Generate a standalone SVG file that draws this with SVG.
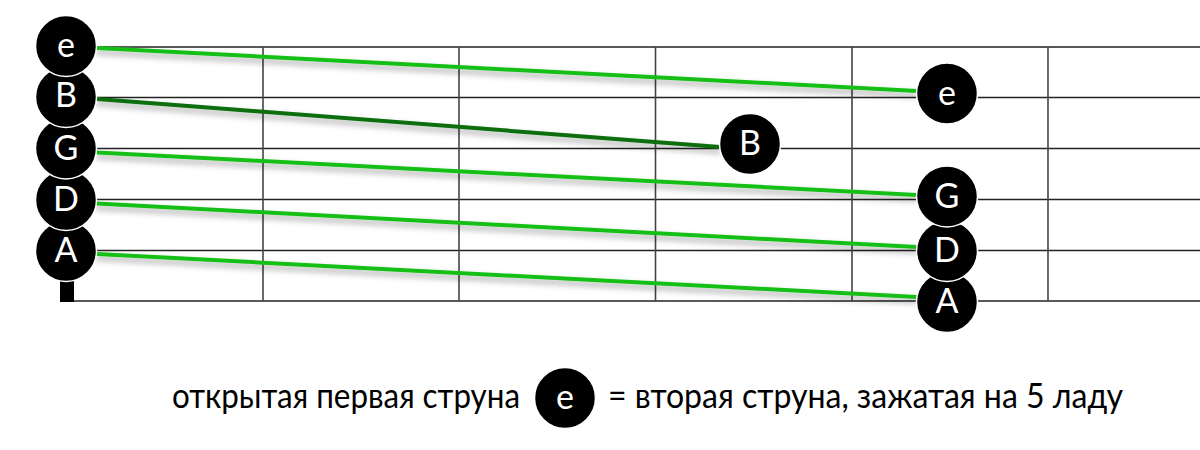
<svg xmlns="http://www.w3.org/2000/svg" width="1200" height="450" viewBox="0 0 1200 450">
<defs>
<filter id="sh" x="-5%" y="-100%" width="110%" height="400%">
<feDropShadow dx="0" dy="4" stdDeviation="3" flood-color="#000" flood-opacity="0.35"/>
</filter>
</defs>
<style>
.grid{stroke:#222;stroke-width:1.6;fill:none}
.fret{stroke:#444;stroke-width:1.6}
.str{stroke:#16bf16;stroke-width:4;stroke-linecap:round;filter:url(#sh)}
.str2{stroke:#0a6e0a;stroke-width:4;stroke-linecap:round;filter:url(#sh)}
.dot{fill:#000;stroke:#fff;stroke-width:1.5}
.lbl{fill:#fff;font-family:Lato,"Open Sans",sans-serif;font-size:34px;text-anchor:middle}
.cap{fill:#000;font-family:Lato,"Open Sans",sans-serif;font-size:34px}
</style>
<rect width="1200" height="450" fill="#fff"/>
<g id="fretboard">
<line class="grid" x1="70" y1="47" x2="1200" y2="47"/>
<line class="grid" x1="70" y1="97.5" x2="1200" y2="97.5"/>
<line class="grid" x1="70" y1="148.5" x2="1200" y2="148.5"/>
<line class="grid" x1="70" y1="199.5" x2="1200" y2="199.5"/>
<line class="grid" x1="70" y1="250.5" x2="1200" y2="250.5"/>
<line class="grid" x1="70" y1="301" x2="1200" y2="301"/>
<line class="fret" x1="263" y1="47" x2="263" y2="301"/>
<line class="fret" x1="459" y1="47" x2="459" y2="301"/>
<line class="fret" x1="655.5" y1="47" x2="655.5" y2="301"/>
<line class="fret" x1="852" y1="47" x2="852" y2="301"/>
<line class="fret" x1="1048" y1="47" x2="1048" y2="301"/>
<rect x="60" y="47" width="14" height="255" fill="#000"/>
</g>
<g id="connectors">
<line class="str" x1="97" y1="48" x2="917" y2="91"/>
<line class="str2" x1="97" y1="99" x2="720" y2="147"/>
<line class="str" x1="97" y1="152.5" x2="917" y2="195"/>
<line class="str" x1="97" y1="203.5" x2="917" y2="247"/>
<line class="str" x1="97" y1="254" x2="917" y2="297"/>
</g>
<g id="open-A"><circle class="dot" cx="66" cy="251" r="30.5"/><text class="lbl" x="66" y="262">A</text></g>
<g id="open-D"><circle class="dot" cx="66" cy="200" r="30.5"/><text class="lbl" x="66" y="211">D</text></g>
<g id="open-G"><circle class="dot" cx="66" cy="148.5" r="30.5"/><text class="lbl" x="66" y="159.5">G</text></g>
<g id="open-B"><circle class="dot" cx="66" cy="97" r="30.5"/><text class="lbl" x="66" y="107">B</text></g>
<g id="open-e"><circle class="dot" cx="66" cy="46" r="30.5"/><text class="lbl" x="66" y="57">e</text></g>
<g id="fret-A"><circle class="dot" cx="947" cy="302" r="30.5"/><text class="lbl" x="947" y="313">A</text></g>
<g id="fret-D"><circle class="dot" cx="947" cy="251" r="30.5"/><text class="lbl" x="947" y="262">D</text></g>
<g id="fret-G"><circle class="dot" cx="947" cy="196.5" r="30.5"/><text class="lbl" x="947" y="207.5">G</text></g>
<g id="fret-B"><circle class="dot" cx="750" cy="144" r="30.5"/><text class="lbl" x="750" y="155">B</text></g>
<g id="fret-e"><circle class="dot" cx="947" cy="93.5" r="30.5"/><text class="lbl" x="947" y="104.5">e</text></g>
<g id="legend">
<text class="cap" x="172" y="408" textLength="348" lengthAdjust="spacingAndGlyphs">открытая первая струна</text>
<circle class="dot" cx="565" cy="398" r="30.5"/>
<text class="lbl" x="565" y="409">e</text>
<text class="cap" x="608" y="408" textLength="515" lengthAdjust="spacingAndGlyphs">= вторая струна, зажатая на 5 ладу</text>
</g>
</svg>
